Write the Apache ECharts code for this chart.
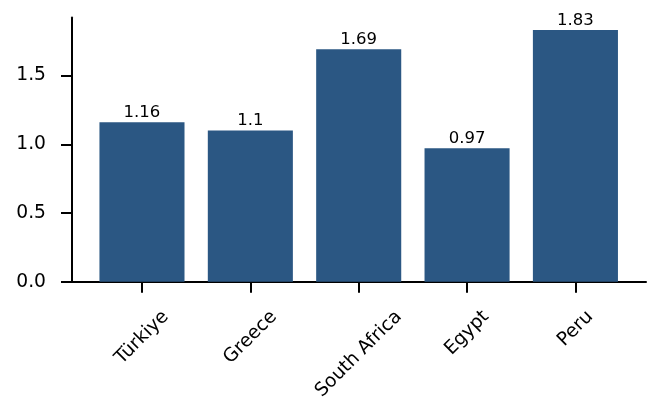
<!DOCTYPE html>
<html>
<head>
<meta charset="utf-8">
<script src="https://cdn.jsdelivr.net/npm/echarts@6/dist/echarts.min.js"></script>
<style>html,body{margin:0;padding:0;background:#fff}#c{width:651px;height:403px}</style>
</head>
<body>
<div id="c"></div>
<script>
const categories = ['Türkiye', 'Greece', 'South Africa', 'Egypt', 'Peru'];
const values = [1.16, 1.1, 1.69, 0.97, 1.83];
const yTicks = [0, 0.5, 1.0, 1.5];

const FONT = 'DejaVu Sans';
const TICK_FS = 18.7;
const yMax = Math.max(...values) * 1.05;

// measure labels to emulate centred rotated labels
const cv = document.createElement('canvas').getContext('2d');
cv.font = TICK_FS + 'px "' + FONT + '"';
const rich = { t: { fontSize: TICK_FS, fontFamily: FONT, color: '#000', lineHeight: 22 } };
categories.forEach((c, i) => {
  const L = cv.measureText(c).width;
  const s = 0.5 * L;
  rich['e' + i] = { fontSize: 1, height: s, lineHeight: s, width: 1 };
  rich['s' + i] = { fontSize: 1, width: s, height: 1, lineHeight: 1 };
});

const chart = echarts.init(document.getElementById('c'), null, { renderer: 'canvas' });
chart.setOption({
  animation: false,
  backgroundColor: '#fff',
  grid: [
    { left: 72, right: 5, top: 17.4, bottom: 121, containLabel: false },
    { left: 87.8, right: 21.4, top: 17.4, bottom: 121, containLabel: false }
  ],
  xAxis: [
    { gridIndex: 0, type: 'value', min: 0, max: 1, axisLabel: { show: false }, axisTick: { show: false },
      splitLine: { show: false }, axisLine: { show: true, lineStyle: { color: '#000', width: 2 } } },
    { gridIndex: 1, type: 'category', data: categories,
      axisLine: { show: false },
      axisTick: { show: true, alignWithLabel: true, length: 11, lineStyle: { color: '#000', width: 2 } },
      axisLabel: {
        rotate: 45, interval: 0, margin: 32, align: 'center', verticalAlign: 'middle',
        formatter: (v, i) => `{e${i}| }\n{t|${v}}{s${i}| }`,
        rich: rich
      } }
  ],
  yAxis: [
    { gridIndex: 0, type: 'value', min: 0, max: yMax, interval: 0.5,
      axisLine: { show: true, lineStyle: { color: '#000', width: 2 } },
      axisTick: { show: true, length: 11, lineStyle: { color: '#000', width: 2 } },
      splitLine: { show: false },
      axisLabel: { showMaxLabel: false, margin: 26, fontSize: TICK_FS, fontFamily: FONT, color: '#000',
        formatter: v => yTicks.indexOf(v) >= 0 ? v.toFixed(1) : '' } },
    { gridIndex: 1, type: 'value', min: 0, max: yMax, show: false }
  ],
  series: [{
    type: 'bar', xAxisIndex: 1, yAxisIndex: 1, data: values,
    barWidth: '78.5%',
    itemStyle: { color: '#2b5783' },
    label: { show: true, position: 'top', distance: 1, fontSize: 16.5, fontFamily: FONT, color: '#000',
      formatter: p => String(p.value) }
  }]
});
</script>
</body>
</html>
